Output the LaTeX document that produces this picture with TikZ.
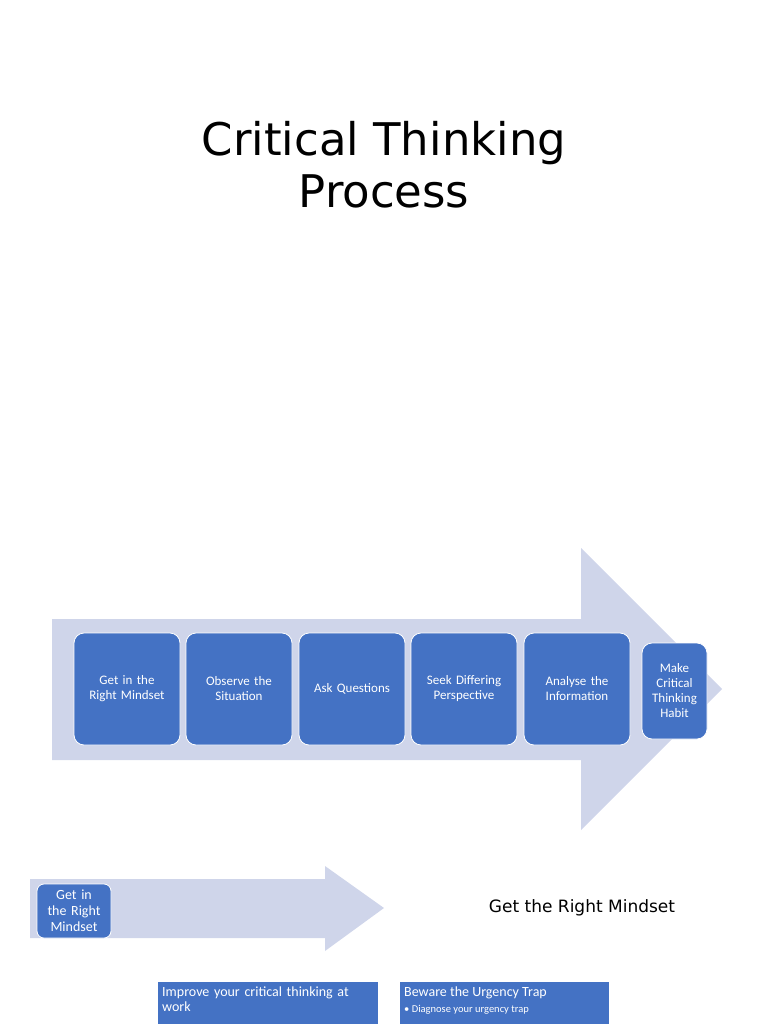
\documentclass[tikz,border=0pt]{standalone}
\usepackage{fontspec}
\setmainfont{Carlito}
\newfontfamily\djfont{DejaVu Sans}
\begin{document}
\begin{tikzpicture}[x=1pt,y=-1pt]
\definecolor{bx}{HTML}{4472C4}
\definecolor{ar}{HTML}{CFD5EA}
\tikzset{stepbox/.style={fill=bx, draw=white, line width=0.8pt, rounded corners=10pt, text=white, align=center, font=\fontsize{13}{15}\selectfont, inner sep=2pt}}
\useasboundingbox (0,0) rectangle (768,1024);
\node[font=\djfont\fontsize{45}{52}\selectfont, align=center] (title) at (384,165) {Critical Thinking\\Process};
\fill[ar] (52,619) -- (581,619) -- (581,548) -- (722,689) -- (581,830) -- (581,760) -- (52,760) -- cycle;
\foreach \n/\x/\t in {s1/127/Get in the\\Right Mindset, s2/239/Observe the\\Situation, s3/352/Ask Questions, s4/464/Seek Differing\\Perspective, s5/577/Analyse the\\Information}
 \node[stepbox, minimum width=106pt, minimum height=112pt, text width=100pt] (\n) at (\x,689) {\t};
\node[stepbox, minimum width=65pt, minimum height=96pt, text width=60pt] (s6) at (674.5,691) {Make\\Critical\\Thinking\\Habit};
\fill[ar] (30,879) -- (325,879) -- (325,866) -- (384,908) -- (325,951) -- (325,938) -- (30,938) -- cycle;
\node[stepbox, rounded corners=7pt, minimum width=72pt, minimum height=54pt, text width=70pt, font=\fontsize{14}{16}\selectfont] (m) at (74,911) {Get in\\the Right\\Mindset};
\node[font=\djfont\fontsize{17}{20}\selectfont] (h) at (582,908) {Get the Right Mindset};
\fill[bx] (158,982) rectangle (378,1024);
\fill[bx] (400,982) rectangle (609,1024);
\node[anchor=north west, text=white, align=left, text width=210pt, inner sep=4pt, font=\fontsize{14}{15}\selectfont] (b1) at (158,983) {Improve your critical thinking at work};
\node[anchor=north west, text=white, align=left, inner sep=4pt, font=\fontsize{14}{15}\selectfont] (b2) at (400,983) {Beware the Urgency Trap};
\node[anchor=north west, text=white, inner sep=0pt, font=\fontsize{10.5}{12}\selectfont] (b3) at (404,1005) {\textbullet\ Diagnose your urgency trap};
\end{tikzpicture}
\end{document}
